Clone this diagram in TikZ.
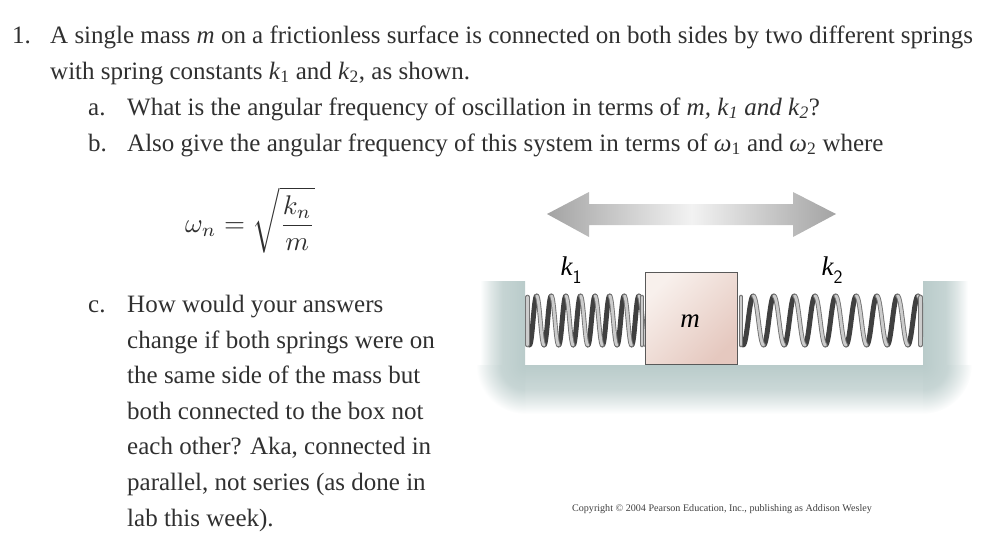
\documentclass[tikz,border=0pt]{standalone}
\usepackage{fontspec}
\setmainfont{Liberation Serif}
\definecolor{trough}{HTML}{B9CBCA}
\definecolor{inktext}{HTML}{303030}
\definecolor{masslight}{HTML}{F8F0EC}
\definecolor{massdark}{HTML}{E5C8BF}
\pgfdeclareradialshading{troughfade}{\pgfpoint{0bp}{0bp}}{color(0bp)=(trough);color(12.5bp)=(trough!80!white);color(18.75bp)=(trough!42!white);color(25bp)=(white);color(50bp)=(white)}
\pgfdeclareverticalshading{floorfade}{100bp}{color(0bp)=(white);color(25bp)=(white);color(37bp)=(trough!38!white);color(50bp)=(trough!75!white);color(75bp)=(trough);color(100bp)=(trough)}
\pgfdeclarehorizontalshading{wallfadel}{100bp}{color(0bp)=(white);color(25bp)=(white);color(37bp)=(trough!45!white);color(50bp)=(trough!82!white);color(75bp)=(trough);color(100bp)=(trough)}
\pgfdeclarehorizontalshading{wallfader}{100bp}{color(0bp)=(trough);color(25bp)=(trough);color(50bp)=(trough!82!white);color(63bp)=(trough!45!white);color(75bp)=(white);color(100bp)=(white)}
\tikzset{
  line/.style={anchor=base west,inner sep=0pt,text=inktext,font=\fontsize{25}{28}\selectfont},
  lbl/.style={inner sep=0pt,anchor=base,font=\fontsize{27}{30}\selectfont\itshape},
  backcoil/.style={line width=5pt,draw=black!75,line cap=round},
  frontcoil/.style={line width=0.9pt,draw=black!55,double=black!20,double distance=2.8pt,line cap=round}
}
\newcommand{\kk}[1]{\textit{k}\textsubscript{#1}}
\newcommand{\om}[1]{\textit{ω}\textsubscript{#1}}
\newcommand{\sublab}[1]{\raisebox{-8pt}{\fontsize{19}{20}\selectfont\normalfont\sffamily #1}}
\newcommand{\coils}[3]{%
  \foreach \i in {1,...,#3}{
    \pgfmathsetmacro{\xt}{#1+(\i-1)*#2}
    \pgfmathsetmacro{\xa}{\xt-0.5*#2}
    \draw[backcoil] (\xa,345) .. controls (\xa+0.2*#2,345) and (\xt-0.2*#2,296) .. (\xt,296);
  }
  \foreach \i in {1,...,#3}{
    \pgfmathsetmacro{\xt}{#1+(\i-1)*#2}
    \pgfmathsetmacro{\xb}{\xt+0.5*#2}
    \draw[frontcoil] (\xt,296) .. controls (\xt+0.2*#2,296) and (\xb-0.2*#2,345) .. (\xb,345);
  }
}
\begin{document}
\begin{tikzpicture}[x=1pt,y=-1pt]
\useasboundingbox (0,0) rectangle (1005,538);
% text
\node[line] (num) at (12,43) {1.};
\node[line] (la) at (50,43) {A single mass \textit{m} on a frictionless surface is connected on both sides by two different springs};
\node[line] (lb) at (50,79) {with spring constants \kk{1} and \kk{2}, as shown.};
\node[line] (ma) at (88,115) {a.};
\node[line] (qa) at (127,115) {What is the angular frequency of oscillation in terms of \textit{m, }\kk{\textit{1}}\textit{ and }\kk{\textit{2}}?};
\node[line] (mb) at (88,151) {b.};
\node[line] (qb) at (127,151) {Also give the angular frequency of this system in terms of \om{1} and \om{2} where};
\node[inner sep=0pt,scale=2.7,text=inktext] (eq) at (250,220) {$\displaystyle \omega_n=\sqrt{\frac{k_n}{m}}$};
\node[line] (mc) at (88,312) {c.};
\foreach \y/\t [count=\n] in {312/How would your answers,348/change if both springs were on,383/the same side of the mass but,419/both connected to the box not,454/each other? Aka{,} connected in,490/parallel{,} not series (as done in,526/lab this week).}
  \node[line] (qc\n) at (127,\y) {\t};
% trough
\shade[shading=wallfadel] (480,281) rectangle (525,365);
\shade[shading=wallfader] (923,281) rectangle (968,365);
\shade[shading=floorfade] (525,365) rectangle (923,414);
\begin{scope}
\clip (525,365) rectangle (476,414);
\shade[shading=troughfade] (525,365) circle (49);
\end{scope}
\begin{scope}
\clip (923,365) rectangle (972,414);
\shade[shading=troughfade] (923,365) circle (49);
\end{scope}
% springs
\begin{scope}
\clip (525,285) rectangle (923,355);
\coils{536.7}{14.6}{8}
\coils{753.3}{20.6}{9}
\draw[frontcoil] (527.5,297)--(527.5,345);
\draw[frontcoil] (642,297)--(642,345);
\draw[frontcoil] (741,297)--(741,345);
\draw[frontcoil] (920.5,297)--(920.5,345);
\end{scope}
% mass
\node[draw=black!65,line width=1pt,minimum size=92pt,inner sep=0pt,top color=masslight,bottom color=massdark,shading angle=45] (mass) at (691.5,318) {};
\node[lbl] (mlab) at (690,327) {m};
\node[lbl] (k1) at (571,275) {k\sublab{1}};
\node[lbl] (k2) at (832,275) {k\sublab{2}};
% arrow
\shade[left color=black!36,right color=black!36,middle color=black!5]
  (547,214)--(589,192)--(589,204)--(793,204)--(793,192)--(836,214)--(793,237)--(793,225)--(589,225)--(589,237)--cycle;
\node[inner sep=0pt,text=black!75,font=\fontsize{10.1}{12}\selectfont] (copy) at (722,509) {Copyright © 2004 Pearson Education, Inc., publishing as Addison Wesley};
\end{tikzpicture}
\end{document}
